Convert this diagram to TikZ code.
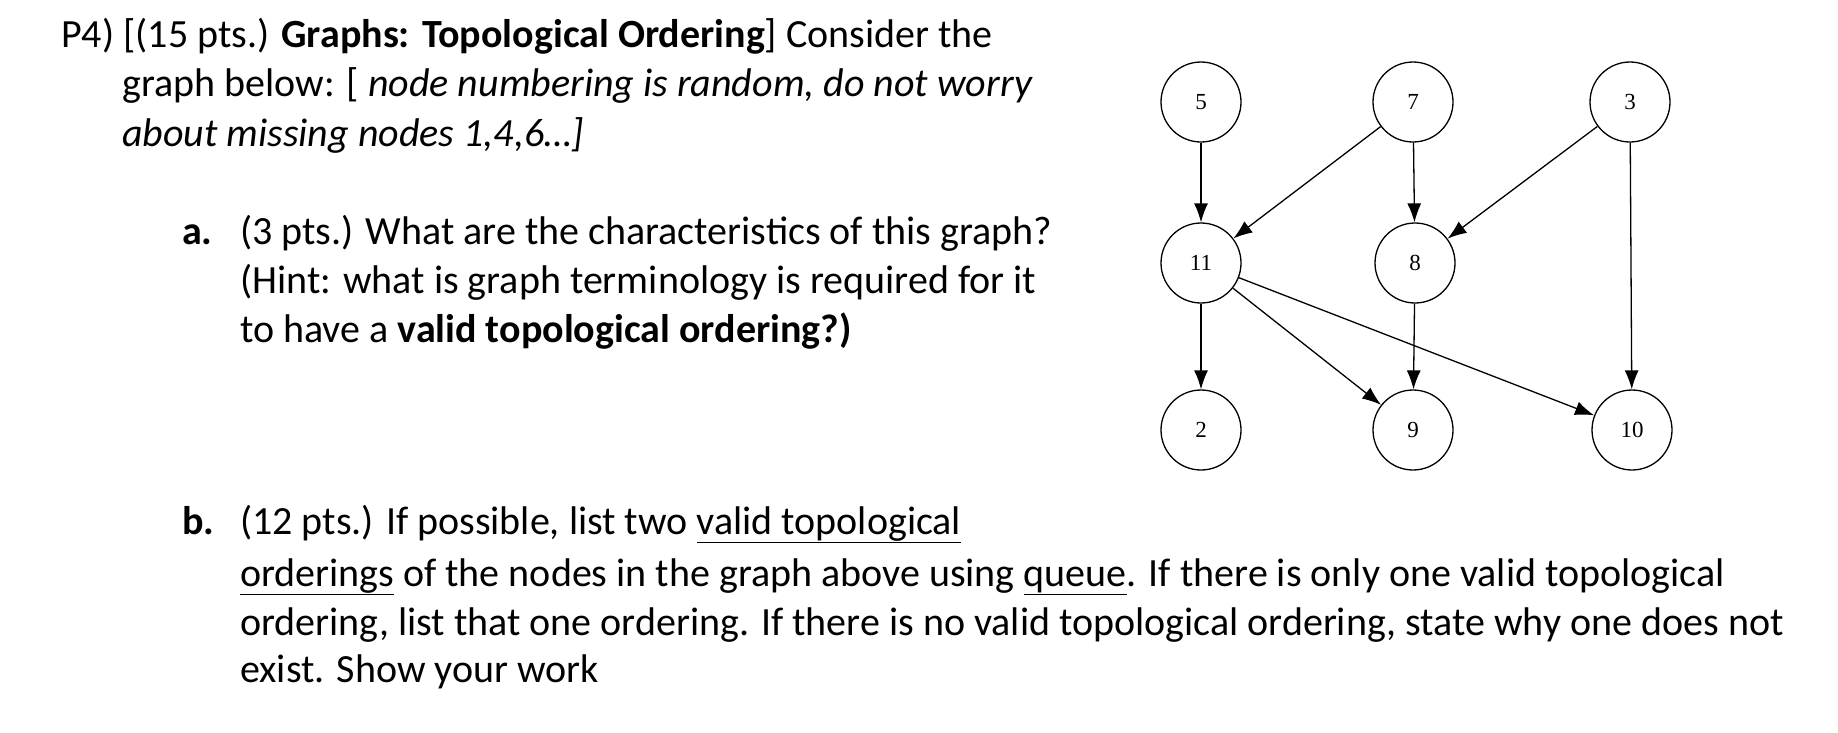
\documentclass[tikz,border=0pt]{standalone}
\usepackage{fontspec}
\setmainfont{Carlito}
\newfontfamily\gfont{Liberation Serif}
\usetikzlibrary{arrows.meta}
\newcommand\myul[1]{\underline{#1}}
\begin{document}
\begin{tikzpicture}[x=1pt,y=-1pt,
  txt/.style={anchor=base west,inner sep=0pt,font=\fontsize{40}{48}\selectfont},
  vtx/.style={draw,circle,minimum size=80pt,inner sep=0pt,line width=1.3pt,font=\gfont\fontsize{23}{26}\selectfont},
  arr/.style={-{Latex[length=19pt,width=14pt]},line width=1.3pt}]
\useasboundingbox (0,0) rectangle (1838,732);
\node[txt] (l1) at (61,47) {P4) [(15 pts.) \textbf{Graphs: Topological Ordering}] Consider the};
\node[txt] (l2) at (122,96) {graph below: [ \textit{node numbering is random, do not worry}};
\node[txt] (l3) at (122,146) {\textit{about missing nodes 1,4,6…]}};
\node[txt] (a0) at (182,244) {\textbf{a.}};
\node[txt] (a1) at (240,244) {(3 pts.) What are the characteristics of this graph?};
\node[txt] (a2) at (240,293) {(Hint: what is graph terminology is required for it};
\node[txt] (a3) at (240,342) {to have a \textbf{valid topological ordering?)}};
\node[txt] (b0) at (182,534) {\textbf{b.}};
\node[txt] (b1) at (240,534) {(12 pts.) If possible, list two \myul{valid topological}};
\node[txt] (b2) at (240,586) {\myul{orderings} of the nodes in the graph above using \myul{queue}. If there is only one valid topological};
\node[txt] (b3) at (240,635) {ordering, list that one ordering. If there is no valid topological ordering, state why one does not};
\node[txt] (b4) at (240,682) {exist. Show your work};
\node[vtx] (n5) at (1201,102) {5};
\node[vtx] (n7) at (1413,102) {7};
\node[vtx] (n3) at (1630,102) {3};
\node[vtx] (n11) at (1201,263) {11};
\node[vtx] (n8) at (1415,263) {8};
\node[vtx] (n2) at (1201,430) {2};
\node[vtx] (n9) at (1413,430) {9};
\node[vtx] (n10) at (1632,430) {10};
\draw[arr] (n5) -- (n11);
\draw[arr] (n7) -- (n11);
\draw[arr] (n7) -- (n8);
\draw[arr] (n3) -- (n8);
\draw[arr] (n3) -- (n10);
\draw[arr] (n11) -- (n2);
\draw[arr] (n11) -- (n9);
\draw[arr] (n11) -- (n10);
\draw[arr] (n8) -- (n9);
\end{tikzpicture}
\end{document}
